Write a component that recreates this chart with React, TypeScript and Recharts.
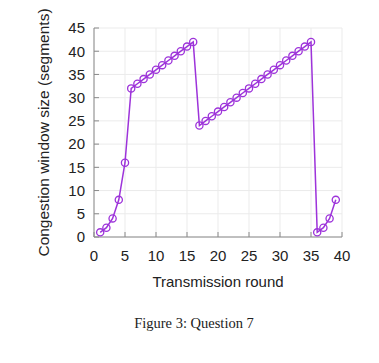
import { CartesianGrid, Line, LineChart, XAxis, YAxis } from 'recharts'

// transmission rounds and congestion window (segments)
const rounds = [
  1, 2, 3, 4, 5, 6, 7, 8, 9, 10, 11, 12, 13, 14, 15, 16, 17, 18, 19, 20,
  21, 22, 23, 24, 25, 26, 27, 28, 29, 30, 31, 32, 33, 34, 35, 36, 37, 38, 39,
]
const cwnd = [
  1, 2, 4, 8, 16, 32, 33, 34, 35, 36, 37, 38, 39, 40, 41, 42, 24, 25, 26, 27,
  28, 29, 30, 31, 32, 33, 34, 35, 36, 37, 38, 39, 40, 41, 42, 1, 2, 4, 8,
]
const xTicks = [0, 5, 10, 15, 20, 25, 30, 35, 40]
const yTicks = [0, 5, 10, 15, 20, 25, 30, 35, 40, 45]

const data = rounds.map((r, i) => ({ round: r, cwnd: cwnd[i] }))

const PURPLE = '#9d33da'
const FRAME = '#8a8a8a'
const FONT = 'Liberation Sans, Arial, sans-serif'
const tickFont = { fontSize: 15, fill: '#222', fontFamily: FONT }

export default function App() {
  return (
    <div style={{ position: 'absolute', left: 0, top: 0, width: 379, height: 363, background: '#fff' }}>
      <LineChart width={379} height={300} data={data} margin={{ top: 28, right: 37, left: 0, bottom: 0 }}>
        <CartesianGrid stroke="#ebebeb" />
        <XAxis
          dataKey="round"
          type="number"
          domain={[0, 40]}
          ticks={xTicks}
          allowDataOverflow
          height={63}
          stroke={FRAME}
          tickSize={-5}
          tickMargin={18}
          tick={tickFont}
          label={{ value: 'Transmission round', position: 'center', dy: 13, fontSize: 15, fill: '#222', fontFamily: FONT }}
        />
        <YAxis
          type="number"
          domain={[0, 45]}
          ticks={yTicks}
          allowDataOverflow
          width={94}
          stroke={FRAME}
          tickSize={-5}
          tickMargin={14}
          tick={tickFont}
          label={{
            value: 'Congestion window size (segments)',
            angle: -90,
            position: 'center',
            dx: -4,
            fontSize: 15.5,
            fill: '#222',
            fontFamily: FONT,
          }}
        />
        <XAxis
          xAxisId="top"
          orientation="top"
          dataKey="round"
          type="number"
          domain={[0, 40]}
          ticks={xTicks}
          allowDataOverflow
          height={0}
          stroke={FRAME}
          tickSize={-5}
          tick={false}
        />
        <YAxis
          yAxisId="right"
          orientation="right"
          type="number"
          domain={[0, 45]}
          ticks={yTicks}
          allowDataOverflow
          width={0}
          stroke={FRAME}
          tickSize={-5}
          tick={false}
        />
        <Line xAxisId="top" yAxisId="right" dataKey="cwnd" stroke="none" dot={false} isAnimationActive={false} />
        <Line
          type="linear"
          dataKey="cwnd"
          stroke={PURPLE}
          strokeWidth={1.5}
          dot={{ r: 3.6, stroke: PURPLE, strokeWidth: 1.3, fill: 'none' }}
          isAnimationActive={false}
        />
      </LineChart>
      <div
        style={{
          position: 'absolute',
          left: 0,
          width: 388,
          top: 315,
          textAlign: 'center',
          fontFamily: 'Liberation Serif, serif',
          fontSize: 14.5,
          color: '#222',
        }}
      >
        Figure 3: Question 7
      </div>
    </div>
  )
}
